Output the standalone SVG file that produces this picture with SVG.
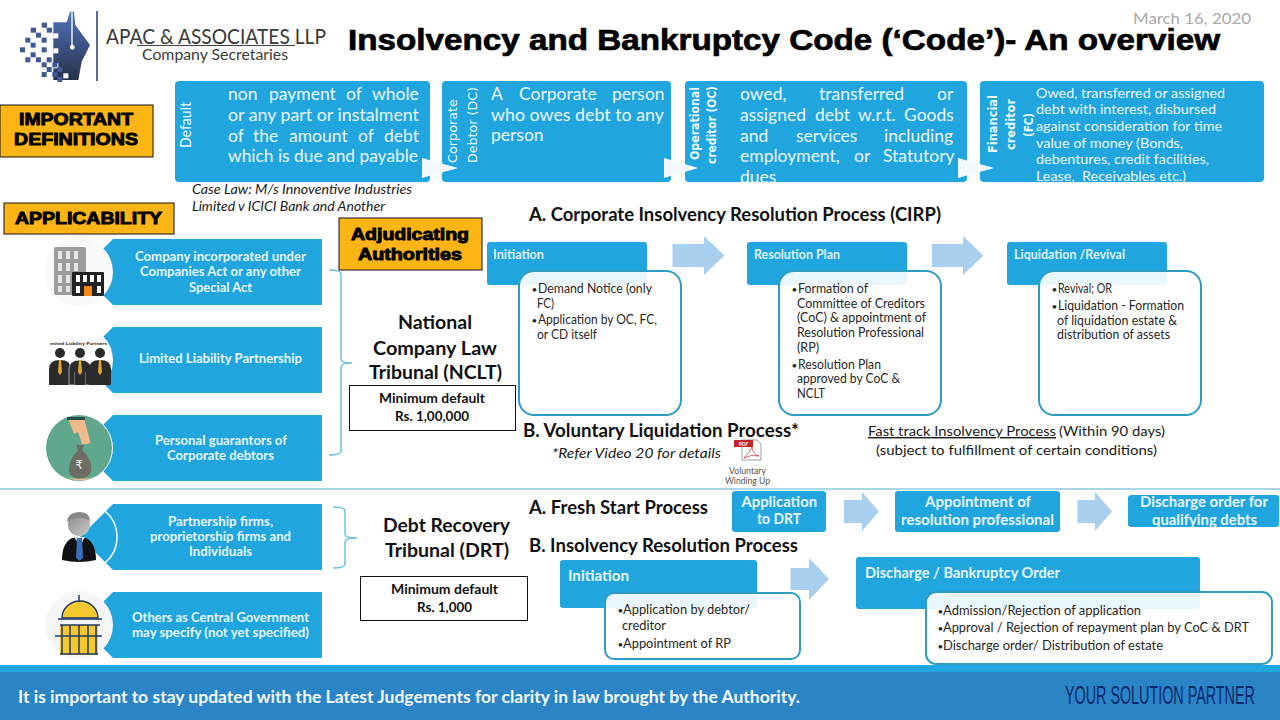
<svg xmlns="http://www.w3.org/2000/svg" width="1280" height="720" viewBox="0 0 1280 720">
<style>
text{font-family:"Lato","Open Sans","Liberation Sans",sans-serif;fill:#1a1a1a}
.blk{font-family:"Liberation Sans",Arial,sans-serif;font-weight:700;fill:#000;stroke:#000;stroke-width:.7}
.lab{stroke-width:.9}
.blue{fill:#20a5de}
.yel{fill:#fdb515;stroke:#111;stroke-width:1}
.box{fill:#fff;fill-opacity:.9;stroke:#2f9cc4;stroke-width:2}
.mini{fill:#fff;stroke:#111;stroke-width:1}
.def{font-size:17.500px;fill:#e8f6fd}
.fc{font-size:14px;fill:#e8f6fd}
.v{font-family:"DejaVu Sans",sans-serif;font-size:12px;fill:#e8f6fd}
.vb{font-weight:700}
.c{font-size:13px;font-weight:700;fill:#e4f5fc}
.t{font-size:12.500px;fill:#262626}
.b{font-size:10px;fill:#262626}
.h{font-size:12.500px;font-weight:700;fill:#dff2fb}
.head{font-size:18px;font-weight:700;fill:#111}
.trib{font-size:19px;font-weight:700;fill:#111}
.md{font-size:13px;font-weight:700;fill:#111}
.step{font-size:14.500px;font-weight:700;fill:#e4f5fc}
.arr{fill:#a9cfee}
.tri{fill:#f2fafe}
.br{fill:none;stroke:#6fc0dc;stroke-width:1.500}
</style>
<rect width="1280" height="720" fill="#fff"/>
<defs><linearGradient id="nib" x1="0" y1="0" x2="0" y2="1"><stop offset="0" stop-color="#4f74b8"/><stop offset="1" stop-color="#28304c"/></linearGradient>
<linearGradient id="head" x1="0" y1="0" x2="1" y2="1"><stop offset="0" stop-color="#8a8a8a"/><stop offset="1" stop-color="#c8c8c8"/></linearGradient>
<clipPath id="ocClip"><rect x="685" y="81" width="282" height="101"/></clipPath></defs>

<g id="logo">
<g transform="translate(10 5) scale(.3333)">
<path d="M180 20H192L196 60L240 120L215 170L205 225H130V52H170Z" fill="url(#nib)"/>
<path d="M186 22V125" stroke="#fff" stroke-width="4"/><circle cx="187" cy="127" r="7" fill="#fff"/>
<g fill="#fff"><rect x="130" y="85" width="15" height="15"/><rect x="130" y="130" width="15" height="15"/><rect x="130" y="175" width="15" height="15"/><rect x="160" y="205" width="15" height="15"/></g>
<g fill="#3f5a96"><rect x="62" y="68" width="16" height="15"/><rect x="95" y="53" width="16" height="15"/><rect x="78" y="83" width="15" height="15"/><rect x="110" y="68" width="16" height="15"/><rect x="46" y="98" width="15" height="15"/><rect x="62" y="113" width="15" height="15"/><rect x="95" y="98" width="15" height="15"/><rect x="30" y="127" width="15" height="15"/><rect x="62" y="142" width="15" height="15"/><rect x="95" y="127" width="15" height="15"/><rect x="46" y="157" width="15" height="15"/><rect x="78" y="157" width="15" height="15"/><rect x="110" y="157" width="15" height="15"/><rect x="95" y="172" width="15" height="15"/><rect x="127" y="172" width="15" height="15"/><rect x="110" y="186" width="15" height="15"/><rect x="142" y="186" width="15" height="15"/><rect x="95" y="201" width="15" height="15"/><rect x="127" y="201" width="15" height="15"/><rect x="142" y="216" width="15" height="15"/></g>
</g>
<rect x="96" y="11" width="2" height="70" fill="#5d6c96"/>
<text x="106" y="44" font-size="21" textLength="220" lengthAdjust="spacingAndGlyphs" style="fill:#3a3a3a">APAC &amp; ASSOCIATES LLP</text>
<path d="M137 45.500H295" stroke="#444" stroke-width="1"/>
<text x="142" y="59.500" font-size="14.500" textLength="146" lengthAdjust="spacingAndGlyphs" style="fill:#3a3a3a">Company Secretaries</text>
</g>

<g id="title"><text class="blk" x="348" y="50" font-size="29" textLength="872" lengthAdjust="spacingAndGlyphs">Insolvency and Bankruptcy Code (‘Code’)- An overview</text></g>
<g id="date"><text x="1133" y="24" font-size="15" textLength="118" lengthAdjust="spacingAndGlyphs" style="fill:#a9a9a9">March 16, 2020</text></g>

<g id="important-definitions"><rect class="yel" x="0" y="105" width="153" height="52"/>
<text class="blk lab" x="19" y="125" font-size="16.500" textLength="114" lengthAdjust="spacingAndGlyphs">IMPORTANT</text>
<text class="blk lab" x="14" y="145" font-size="16.500" textLength="124" lengthAdjust="spacingAndGlyphs">DEFINITIONS</text></g>

<g id="def-default"><rect class="blue" x="175" y="81" width="255" height="101" rx="4"/>
<text class="v" transform="translate(191 148) rotate(-90)" textLength="46" lengthAdjust="spacingAndGlyphs" style="font-family:Lato,sans-serif;font-size:15px">Default</text>
<text class="def" y="100"><tspan x="228">non</tspan><tspan x="269">payment</tspan><tspan x="346">of</tspan><tspan x="372">whole</tspan></text>
<text class="def" x="228" y="121" textLength="191" lengthAdjust="spacingAndGlyphs">or any part or instalment</text>
<text class="def" y="142"><tspan x="228">of</tspan><tspan x="253">the</tspan><tspan x="289">amount</tspan><tspan x="358">of</tspan><tspan x="384">debt</tspan></text>
<text class="def" x="228" y="162" textLength="190" lengthAdjust="spacingAndGlyphs">which is due and payable</text></g>

<g id="def-dc"><rect class="blue" x="442" y="81" width="229" height="101" rx="4"/>
<text class="v" transform="translate(457 163) rotate(-90)" textLength="64" lengthAdjust="spacingAndGlyphs">Corporate</text>
<text class="v" transform="translate(477 163) rotate(-90)" textLength="76" lengthAdjust="spacingAndGlyphs">Debtor (DC)</text>
<text class="def" y="100"><tspan x="491">A</tspan><tspan x="519">Corporate</tspan><tspan x="612">person</tspan></text>
<text class="def" x="491" y="121" textLength="173" lengthAdjust="spacingAndGlyphs">who owes debt to any</text>
<text class="def" x="491" y="141">person</text></g>

<g id="def-oc"><rect class="blue" x="685" y="81" width="282" height="101" rx="4"/>
<text class="v vb" transform="translate(699 160) rotate(-90)" textLength="73" lengthAdjust="spacingAndGlyphs">Operational</text>
<text class="v vb" transform="translate(716 164) rotate(-90)" textLength="78" lengthAdjust="spacingAndGlyphs">creditor (OC)</text>
<g clip-path="url(#ocClip)">
<text class="def" y="100"><tspan x="740">owed,</tspan><tspan x="819">transferred</tspan><tspan x="937">or</tspan></text>
<text class="def" y="121"><tspan x="740">assigned</tspan><tspan x="815">debt</tspan><tspan x="858">w.r.t.</tspan><tspan x="904">Goods</tspan></text>
<text class="def" y="142"><tspan x="740">and</tspan><tspan x="796">services</tspan><tspan x="884">including</tspan></text>
<text class="def" y="162"><tspan x="740">employment,</tspan><tspan x="854">or</tspan><tspan x="883">Statutory</tspan></text>
<text class="def" x="740" y="183">dues</text></g></g>

<g id="def-fc"><rect class="blue" x="980" y="81" width="284" height="101" rx="4"/>
<text class="v vb" transform="translate(997 153) rotate(-90)" textLength="58" lengthAdjust="spacingAndGlyphs">Financial</text>
<text class="v vb" transform="translate(1015 150) rotate(-90)" textLength="51" lengthAdjust="spacingAndGlyphs">creditor</text>
<text class="v vb" transform="translate(1033 137) rotate(-90)" textLength="24" lengthAdjust="spacingAndGlyphs">(FC)</text>
<text class="fc" x="1036" y="98" textLength="189" lengthAdjust="spacingAndGlyphs">Owed, transferred or assigned</text>
<text class="fc" x="1036" y="114" textLength="180" lengthAdjust="spacingAndGlyphs">debt with interest, disbursed</text>
<text class="fc" x="1036" y="131" textLength="186" lengthAdjust="spacingAndGlyphs">against consideration for time</text>
<text class="fc" x="1036" y="148" textLength="147" lengthAdjust="spacingAndGlyphs">value of money (Bonds,</text>
<text class="fc" x="1036" y="164" textLength="173" lengthAdjust="spacingAndGlyphs">debentures, credit facilities,</text>
<text class="fc" x="1036" y="181" textLength="150" lengthAdjust="spacingAndGlyphs" xml:space="preserve">Lease,  Receivables etc.)</text></g>

<g id="case-law"><text x="192" y="194" font-size="13" font-style="italic" textLength="220" lengthAdjust="spacingAndGlyphs">Case Law: M/s Innoventive Industries</text>
<text x="192" y="211" font-size="13" font-style="italic" textLength="193" lengthAdjust="spacingAndGlyphs">Limited v ICICI Bank and Another</text></g>

<g id="applicability"><rect class="yel" x="4" y="203" width="170" height="31"/>
<text class="blk lab" x="15" y="224" font-size="16.500" textLength="147" lengthAdjust="spacingAndGlyphs">APPLICABILITY</text></g>

<g id="adjudicating"><rect class="yel" x="339" y="218" width="143" height="52"/>
<text class="blk lab" x="351" y="240" font-size="16" textLength="118" lengthAdjust="spacingAndGlyphs">Adjudicating</text>
<text class="blk lab" x="358" y="260" font-size="16" textLength="104" lengthAdjust="spacingAndGlyphs">Authorities</text></g>

<g id="card-company"><path class="blue" d="M113 239H322V305H113L80 272Z"/>
<circle cx="79" cy="272" r="34" fill="#f8f8f8"/>
<rect x="54" y="247" width="32" height="48" rx="2" fill="#9c9c9c"/>
<g fill="#e6e6e6"><rect x="58" y="251" width="4" height="8"/><rect x="66" y="251" width="4" height="8"/><rect x="74" y="251" width="4" height="8"/><rect x="58" y="263" width="4" height="8"/><rect x="66" y="263" width="4" height="8"/><rect x="74" y="263" width="4" height="8"/><rect x="58" y="275" width="4" height="8"/><rect x="66" y="275" width="4" height="8"/><rect x="58" y="286" width="4" height="6"/><rect x="66" y="286" width="4" height="6"/></g>
<rect x="72" y="272" width="32" height="24" rx="1" fill="#222"/>
<g fill="#fff"><rect x="76" y="275" width="4" height="7"/><rect x="83" y="275" width="4" height="7"/><rect x="90" y="275" width="4" height="7"/><rect x="97" y="275" width="4" height="7"/><rect x="76" y="286" width="4" height="7"/><rect x="97" y="286" width="4" height="7"/></g>
<rect x="84" y="286" width="8" height="10" fill="#f28a1c"/>
<text class="c" x="135" y="261" textLength="171" lengthAdjust="spacingAndGlyphs">Company incorporated under</text>
<text class="c" x="140" y="276" textLength="161" lengthAdjust="spacingAndGlyphs">Companies Act or any other</text>
<text class="c" x="189" y="291.500" textLength="63" lengthAdjust="spacingAndGlyphs">Special Act</text></g>

<g id="card-llp"><path class="blue" d="M113 327H322V393H113L80 360Z"/>
<circle cx="79" cy="360" r="34" fill="#fff"/>
<text x="50" y="345" font-size="4.500" font-weight="700" textLength="57" lengthAdjust="spacingAndGlyphs">mited Liability Partners</text>
<g fill="#2b2b2b"><circle cx="60" cy="353" r="5"/><circle cx="80" cy="353" r="5"/><circle cx="100" cy="353" r="5"/>
<path d="M49 385V369Q49 360 60 360Q71 360 71 369V385H65V372H55V385Z"/><path d="M69 385V369Q69 360 80 360Q91 360 91 369V385H85V372H75V385Z" stroke="#fff" stroke-width=".6"/><path d="M89 385V369Q89 360 100 360Q111 360 111 369V385H105V372H95V385Z"/><rect x="55" y="368" width="10" height="17"/><rect x="75" y="368" width="10" height="17"/><rect x="95" y="368" width="10" height="17"/></g>
<g fill="#e0a92a"><path d="M59 360H61L62 372L60 375L58 372Z"/><path d="M79 360H81L82 372L80 375L78 372Z"/><path d="M99 360H101L102 372L100 375L98 372Z"/></g>
<text class="c" x="139" y="363" textLength="163" lengthAdjust="spacingAndGlyphs">Limited Liability Partnership</text></g>

<g id="card-guarantors"><path class="blue" d="M113 415H322V481H113L80 448Z"/>
<circle cx="79" cy="448" r="33.500" fill="#5fa88e" stroke="#fff" stroke-width="1"/>
<path d="M68 418H84L90 441Q91 444 87 444H82L78 432L74 434Z" fill="#f2b98d"/><path d="M67 417H85V420H67Z" fill="#2d4a48"/>
<path d="M76 445H84L82 450Q93 460 91 472Q89 478 80 478Q70 478 69 472Q68 460 78 450Z" fill="#6d6d66"/>
<path d="M66 477Q80 484 94 477Q80 481 66 477Z" fill="#f2b98d"/>
<text x="79" y="469" text-anchor="middle" style="font-family:'DejaVu Sans',sans-serif;font-size:12px;fill:#eee">₹</text>
<text class="c" x="155" y="445" textLength="132" lengthAdjust="spacingAndGlyphs">Personal guarantors of</text>
<text class="c" x="167" y="460" textLength="107" lengthAdjust="spacingAndGlyphs">Corporate debtors</text></g>

<g id="card-individuals"><path class="blue" d="M113 504H322V570H113L80 537Z"/>
<path d="M105 511A34 34 0 0 1 105 563" fill="none" stroke="#fff" stroke-width="1.500"/>
<circle cx="79" cy="525" r="11" fill="url(#head)"/><path d="M67 522Q68 512 79 512Q90 512 90 521Q80 514 67 522Z" fill="#888"/>
<path d="M62 560Q62 543 72 538L86 538Q96 543 96 560Q79 564 62 560Z" fill="#111"/>
<path d="M74 537H85L80 546Z" fill="#ddd"/><path d="M77 538H82L83 558L79.500 561L76 558Z" fill="#3a6fc0"/>
<text class="c" x="168" y="526" textLength="105" lengthAdjust="spacingAndGlyphs">Partnership firms,</text>
<text class="c" x="150" y="541" textLength="141" lengthAdjust="spacingAndGlyphs">proprietorship firms and</text>
<text class="c" x="189" y="556" textLength="63" lengthAdjust="spacingAndGlyphs">Individuals</text></g>

<g id="card-others"><path class="blue" d="M113 592H322V658H113L80 625Z"/>
<circle cx="79" cy="625" r="34" fill="#f5f5f5"/>
<path d="M62 618A17 16 0 0 1 98 618Z" fill="#f5c92e" stroke="#1f3a66" stroke-width="1.500"/>
<rect x="60" y="625" width="38" height="30" fill="#f5c92e"/>
<g fill="none" stroke="#1f3a66" stroke-width="1.500"><path d="M79 602V595M58 619H102M60 625H100M55 636H102M60 654H98M62 625V654M70 625V654M79 625V654M88 625V654M96 625V654"/></g>
<text class="c" x="132" y="622" textLength="177" lengthAdjust="spacingAndGlyphs">Others as Central Government</text>
<text class="c" x="132" y="637" textLength="177" lengthAdjust="spacingAndGlyphs">may specify (not yet specified)</text></g>

<g id="nclt"><text class="trib" x="398" y="329" textLength="74" lengthAdjust="spacingAndGlyphs">National</text>
<text class="trib" x="373" y="355" textLength="124" lengthAdjust="spacingAndGlyphs">Company Law</text>
<text class="trib" x="369" y="379" textLength="133" lengthAdjust="spacingAndGlyphs">Tribunal (NCLT)</text></g>
<g id="nclt-min"><rect class="mini" x="349.500" y="385.500" width="166" height="45"/>
<text class="md" x="379" y="403" textLength="106" lengthAdjust="spacingAndGlyphs">Minimum default</text>
<text class="md" x="395" y="421" textLength="74" lengthAdjust="spacingAndGlyphs">Rs. 1,00,000</text></g>

<g id="drt"><text class="trib" x="383" y="532" textLength="127" lengthAdjust="spacingAndGlyphs">Debt Recovery</text>
<text class="trib" x="385" y="557" textLength="124" lengthAdjust="spacingAndGlyphs">Tribunal (DRT)</text></g>
<g id="drt-min"><rect class="mini" x="360.500" y="576.500" width="167" height="44"/>
<text class="md" x="391" y="594" textLength="107" lengthAdjust="spacingAndGlyphs">Minimum default</text>
<text class="md" x="417" y="612" textLength="55" lengthAdjust="spacingAndGlyphs">Rs. 1,000</text></g>

<g id="heading-cirp"><text class="head" x="529" y="221" textLength="412" lengthAdjust="spacingAndGlyphs">A. Corporate Insolvency Resolution Process (CIRP)</text></g>

<g id="cirp-initiation"><rect class="blue" x="487" y="242" width="160" height="43" rx="3"/>
<text class="h" x="493" y="259" textLength="51" lengthAdjust="spacingAndGlyphs">Initiation</text>
<rect class="box" x="519" y="271" width="162" height="144" rx="15"/>
<text class="b" x="531.500" y="293">•</text><text class="t" x="538" y="293" textLength="114" lengthAdjust="spacingAndGlyphs">Demand Notice (only</text>
<text class="t" x="537" y="308" textLength="17" lengthAdjust="spacingAndGlyphs">FC)</text>
<text class="b" x="531.500" y="324">•</text><text class="t" x="538" y="324" textLength="119" lengthAdjust="spacingAndGlyphs">Application by OC, FC,</text>
<text class="t" x="537" y="339" textLength="60" lengthAdjust="spacingAndGlyphs">or CD itself</text></g>

<g id="cirp-plan"><rect class="blue" x="747" y="242" width="160" height="43" rx="3"/>
<text class="h" x="754" y="259" textLength="86" lengthAdjust="spacingAndGlyphs">Resolution Plan</text>
<rect class="box" x="779" y="271" width="162" height="144" rx="15"/>
<text class="b" x="791.500" y="293">•</text><text class="t" x="798" y="293" textLength="70" lengthAdjust="spacingAndGlyphs">Formation of</text>
<text class="t" x="797" y="308" textLength="128" lengthAdjust="spacingAndGlyphs">Committee of Creditors</text>
<text class="t" x="797" y="322" textLength="129" lengthAdjust="spacingAndGlyphs">(CoC) &amp; appointment of</text>
<text class="t" x="797" y="337" textLength="127" lengthAdjust="spacingAndGlyphs">Resolution Professional</text>
<text class="t" x="797" y="352" textLength="22" lengthAdjust="spacingAndGlyphs">(RP)</text>
<text class="b" x="791.500" y="369">•</text><text class="t" x="798" y="369" textLength="83" lengthAdjust="spacingAndGlyphs">Resolution Plan</text>
<text class="t" x="797" y="383" textLength="103" lengthAdjust="spacingAndGlyphs">approved by CoC &amp;</text>
<text class="t" x="797" y="398" textLength="28" lengthAdjust="spacingAndGlyphs">NCLT</text></g>

<g id="cirp-liquidation"><rect class="blue" x="1007" y="242" width="160" height="43" rx="3"/>
<text class="h" x="1014" y="259" textLength="111" lengthAdjust="spacingAndGlyphs">Liquidation /Revival</text>
<rect class="box" x="1039" y="271" width="162" height="144" rx="15"/>
<text class="b" x="1051.500" y="293">•</text><text class="t" x="1058" y="293" textLength="54" lengthAdjust="spacingAndGlyphs">Revival; OR</text>
<text class="b" x="1051.500" y="310">•</text><text class="t" x="1058" y="310" textLength="126" lengthAdjust="spacingAndGlyphs">Liquidation - Formation</text>
<text class="t" x="1057" y="325" textLength="120" lengthAdjust="spacingAndGlyphs">of liquidation estate &amp;</text>
<text class="t" x="1057" y="339" textLength="113" lengthAdjust="spacingAndGlyphs">distribution of assets</text></g>

<g id="heading-voluntary"><text class="head" x="523" y="437" textLength="276" lengthAdjust="spacingAndGlyphs">B. Voluntary Liquidation Process*</text>
<text x="552" y="458" font-size="14" font-style="italic" textLength="169" lengthAdjust="spacingAndGlyphs">*Refer Video 20 for details</text></g>

<g id="pdf-icon"><path d="M742 440H757L761 444V460H742Z" fill="#fff" stroke="#777" stroke-width=".7"/>
<path d="M744 458Q750 452 752 447Q753 455 759 456Q751 454 744 458Z" fill="none" stroke="#c2242b" stroke-width=".7"/>
<rect x="734" y="440" width="19" height="7" fill="#c2242b"/>
<text x="743.500" y="446" text-anchor="middle" font-size="5" font-weight="700" style="fill:#fff">PDF</text>
<text x="729" y="473.500" font-size="9" textLength="37" lengthAdjust="spacingAndGlyphs" style="fill:#555">Voluntary</text>
<text x="725" y="484" font-size="9" textLength="45" lengthAdjust="spacingAndGlyphs" style="fill:#555">Winding Up</text></g>

<g id="fast-track"><text x="868" y="436" font-size="14"><tspan text-decoration="underline" textLength="188" lengthAdjust="spacingAndGlyphs">Fast track Insolvency Process</tspan><tspan x="1059" textLength="106" lengthAdjust="spacingAndGlyphs">(Within 90 days)</tspan></text>
<text x="876" y="455" font-size="14" textLength="281" lengthAdjust="spacingAndGlyphs">(subject to fulfillment of certain conditions)</text></g>

<path d="M0 489H1280" stroke="#8ccadf" stroke-width="1.500"/>

<g id="heading-fresh"><text class="head" x="529" y="514" textLength="179" lengthAdjust="spacingAndGlyphs">A. Fresh Start Process</text></g>
<g id="fresh-app"><rect class="blue" x="732" y="491" width="94" height="41" rx="3"/>
<text class="step" x="741.500" y="507" textLength="75.500" lengthAdjust="spacingAndGlyphs">Application</text>
<text class="step" x="757" y="524" textLength="44" lengthAdjust="spacingAndGlyphs">to DRT</text></g>
<g id="fresh-rp"><rect class="blue" x="895" y="491" width="165" height="41" rx="3"/>
<text class="step" x="925" y="507" textLength="106" lengthAdjust="spacingAndGlyphs">Appointment of</text>
<text class="step" x="901" y="525" textLength="153" lengthAdjust="spacingAndGlyphs">resolution professional</text></g>
<g id="fresh-discharge"><rect class="blue" x="1128" y="495" width="151" height="32" rx="3"/>
<text class="step" x="1140" y="507" textLength="128" lengthAdjust="spacingAndGlyphs">Discharge order for</text>
<text class="step" x="1152" y="525" textLength="105" lengthAdjust="spacingAndGlyphs">qualifying debts</text></g>

<g id="heading-irp"><text class="head" x="529" y="552" textLength="269" lengthAdjust="spacingAndGlyphs">B. Insolvency Resolution Process</text></g>
<g id="irp-initiation"><rect class="blue" x="560" y="560" width="197" height="48" rx="3"/>
<text class="step" x="568" y="581" textLength="61" lengthAdjust="spacingAndGlyphs">Initiation</text>
<rect class="box" x="605" y="593" width="195" height="66" rx="9"/>
<text class="b" x="617.500" y="614">•</text><text class="t" x="623" y="614" textLength="127" lengthAdjust="spacingAndGlyphs">Application by debtor/</text>
<text class="t" x="622" y="630" textLength="44" lengthAdjust="spacingAndGlyphs">creditor</text>
<text class="b" x="617.500" y="648">•</text><text class="t" x="623" y="648" textLength="108" lengthAdjust="spacingAndGlyphs">Appointment of RP</text></g>
<g id="irp-discharge"><rect class="blue" x="856" y="557" width="344" height="52" rx="3"/>
<text class="step" x="865" y="578" textLength="195" lengthAdjust="spacingAndGlyphs">Discharge / Bankruptcy Order</text>
<rect class="box" x="926" y="592" width="346" height="72" rx="10"/>
<text class="b" x="937.500" y="614.500">•</text><text class="t" x="943" y="614.500" textLength="198" lengthAdjust="spacingAndGlyphs">Admission/Rejection of application</text>
<text class="b" x="937.500" y="632">•</text><text class="t" x="943" y="632" textLength="306" lengthAdjust="spacingAndGlyphs">Approval / Rejection of repayment plan by CoC &amp; DRT</text>
<text class="b" x="937.500" y="650">•</text><text class="t" x="943" y="650" textLength="220" lengthAdjust="spacingAndGlyphs">Discharge order/ Distribution of estate</text></g>

<g id="connectors">
<path class="tri" d="M422 158L458 168L422 178Z"/><path class="tri" d="M664 158L698 168L664 178Z"/><path class="tri" d="M958 158L994 168L958 178Z"/>
<path class="arr" d="M672.500 244H704V236L724.500 255.500L704 275V267H672.500Z"/>
<path class="arr" d="M932 244H963V236L983.500 255.500L963 275V267H932Z"/>
<path class="arr" d="M844 500H862V492L879 511.500L862 531V523H844Z"/>
<path class="arr" d="M1077.500 500H1095V492L1112 511.500L1095 531V523H1077.500Z"/>
<path class="arr" d="M790.500 568H809V558L829 579L809 600V590H790.500Z"/>
<path class="br" d="M329 270Q341 270 341 274V359Q341 363 352 363Q341 363 341 367V451Q341 455 329 455"/>
<path class="br" d="M333 507Q345 507 345 511V534Q345 538 357 538Q345 538 345 542V564Q345 568 333 568"/>
</g>

<g id="footer"><rect y="665" width="1280" height="55" fill="#2a84c6"/><rect y="665" width="1280" height="7" fill="#22a6e0"/>
<text x="18" y="703" font-size="16.500" font-weight="700" textLength="782" lengthAdjust="spacingAndGlyphs" style="fill:#f2f8fc">It is important to stay updated with the Latest Judgements for clarity in law brought by the Authority.</text>
<text transform="translate(1065 704) scale(.56 1)" textLength="339" lengthAdjust="spacingAndGlyphs" style="font-family:'Liberation Sans',sans-serif;font-size:25px;fill:#0b2b6e">YOUR SOLUTION PARTNER</text></g>
</svg>
